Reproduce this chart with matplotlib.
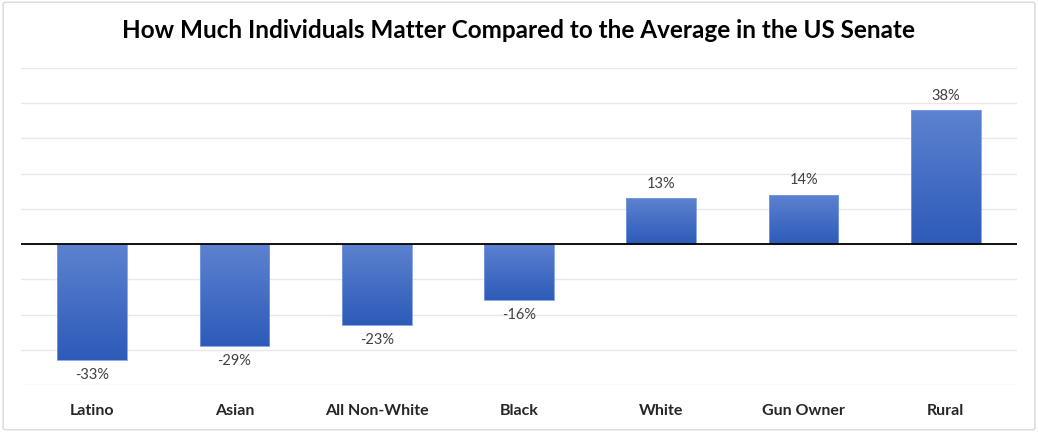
import matplotlib.pyplot as plt
import numpy as np
from matplotlib.patches import FancyBboxPatch
from matplotlib.colors import LinearSegmentedColormap

categories = ['Latino', 'Asian', 'All Non-White', 'Black', 'White', 'Gun Owner', 'Rural']
values = [-33, -29, -23, -16, 13, 14, 38]
labels = ['-33%', '-29%', '-23%', '-16%', '13%', '14%', '38%']

plt.rcParams['font.family'] = ['Lato', 'DejaVu Sans']

fig = plt.figure(figsize=(10.38, 4.32), dpi=100)
fig.patches.append(FancyBboxPatch((0.003, 0.005), 0.994, 0.99, boxstyle='round,pad=0,rounding_size=0.004',
                                  transform=fig.transFigure, fill=False, ec='#d9d9d9', lw=1))
ax = fig.add_axes([21 / 1038, 1 - 385 / 432, 996 / 1038, 317 / 432])

x = np.arange(len(categories))
bars = ax.bar(x, values, width=0.49, color='none', edgecolor='#7a9be0', linewidth=0.6, zorder=3)

# vertical gradient inside each bar, light on top, darker at bottom
grad = np.linspace(0, 1, 256).reshape(-1, 1)
cmap = LinearSegmentedColormap.from_list('bg', ['#2d5bb9', '#5d82d0'])
for b, v in zip(bars, values):
    x0, w = b.get_x(), b.get_width()
    im = ax.imshow(grad, cmap=cmap, aspect='auto', origin='lower',
                   extent=[x0, x0 + w, min(0, v), max(0, v)], zorder=2)
    im.set_clip_path(b)

for xi, v, lab in zip(x, values, labels):
    if v >= 0:
        ax.text(xi, v + 2.2, lab, ha='center', va='bottom', fontsize=10.5, color='#404040')
    else:
        ax.text(xi, v - 2.2, lab, ha='center', va='top', fontsize=10.5, color='#404040')

ax.set_xlim(-0.5, len(categories) - 0.5)
ax.set_ylim(-40, 50)
ax.set_yticks(range(-40, 51, 10))
ax.yaxis.grid(True, color='#e8e8e8', lw=1)
ax.set_axisbelow(True)
ax.axhline(0, color='black', lw=1.3, zorder=4)
ax.tick_params(left=False, bottom=False, labelleft=False)
ax.set_xticks(x)
ax.set_xticklabels(categories, fontsize=11.5, fontweight='bold', color='#262626')
ax.tick_params(axis='x', pad=10)
for s in ax.spines.values():
    s.set_visible(False)

fig.text(0.5, 1 - 31 / 432, 'How Much Individuals Matter Compared to the Average in the US Senate',
         ha='center', va='center', fontsize=17.5, fontweight='bold', color='black')

fig.savefig('out.png', dpi=100)
